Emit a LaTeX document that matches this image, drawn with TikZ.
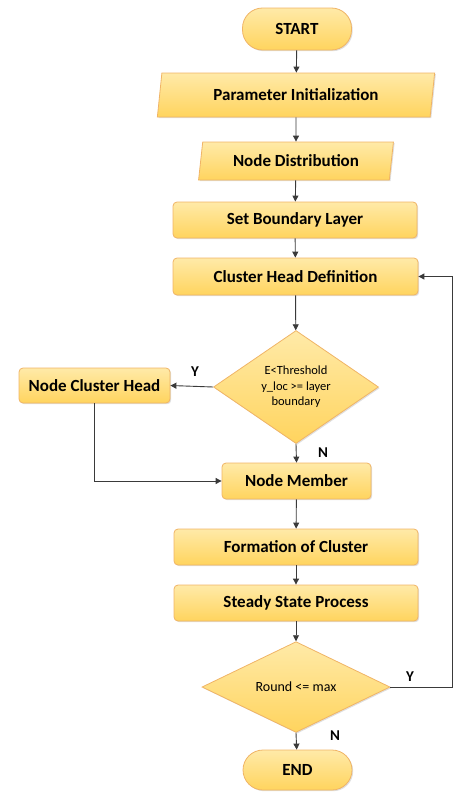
\documentclass[tikz,border=0pt]{standalone}
\usepackage{fontspec}
\setmainfont{Carlito}
\usetikzlibrary{shapes.geometric,shadows,arrows.meta}
\definecolor{boxtop}{HTML}{FFEAA8}
\definecolor{boxbot}{HTML}{FFD45E}
\definecolor{boxedge}{HTML}{F0B466}
\definecolor{wire}{HTML}{3A3A3A}
\begin{document}
\begin{tikzpicture}[x=1pt,y=-1pt,
    box/.style={draw=boxedge,line width=0.8pt,top color=boxtop,bottom color=boxbot,
      drop shadow={opacity=0.25,shadow xshift=1.2pt,shadow yshift=-1.2pt},
      font=\fontsize{17}{19}\selectfont\bfseries,inner sep=0pt},
    proc/.style={box,rectangle,rounded corners=4pt},
    term/.style={box,rectangle,rounded corners=20pt},
    io/.style={box,trapezium,trapezium left angle=77,trapezium right angle=103,
      trapezium stretches=true},
    choice/.style={box,diamond,font=\fontsize{12.5}{15.5}\selectfont,align=center},
    yn/.style={font=\fontsize{15}{17}\selectfont\bfseries},
    flow/.style={draw=wire,line width=0.9pt,-{Triangle[length=6pt,width=6pt]}}]
  \useasboundingbox (0,0) rectangle (474,803);
  \draw
    (297,29) node[term,minimum width=109pt,minimum height=42pt] (start){START}
    (296,95) node[io,minimum width=278pt,minimum height=44pt] (param){Parameter Initialization}
    (296,161) node[io,minimum width=195pt,minimum height=38pt] (dist){Node Distribution}
    (295,220) node[proc,minimum width=244pt,minimum height=36pt] (layer){Set Boundary Layer}
    (295.5,276.5) node[proc,minimum width=245pt,minimum height=37pt] (chdef){Cluster Head Definition}
    (296,387) node[choice,minimum width=165pt,minimum height=113pt] (dec1){E<Threshold\\y\_loc >= layer\\boundary}
    (94.5,385.5) node[proc,minimum width=151pt,minimum height=35pt] (nch){Node Cluster Head}
    (296.5,481) node[proc,minimum width=149pt,minimum height=36pt] (member){Node Member}
    (296,547) node[proc,minimum width=244pt,minimum height=36pt] (form){Formation of Cluster}
    (296,603) node[proc,minimum width=244pt,minimum height=36pt] (steady){Steady State Process}
    (296,687) node[choice,font=\fontsize{14}{16}\selectfont,minimum width=188pt,minimum height=79pt] (dec2){Round <= max}
    (297.5,770) node[term,minimum width=109pt,minimum height=40pt] (end){END};
  \coordinate (loop) at (452,687);
  \node[yn] (y1) at (195,372) {Y};
  \node[yn] (n1) at (323,453) {N};
  \node[yn] (y2) at (410,677) {Y};
  \node[yn] (n2) at (335,736) {N};
  \begin{scope}[flow]
    \draw (start) to (param);
    \draw (param) to (dist);
    \draw (dist) to (layer);
    \draw (layer) to (chdef);
    \draw (chdef) to (dec1);
    \draw (dec1.west) to (nch.east);
    \draw (dec1.south) to (member.north);
    \draw (nch.south) |- (member.west);
    \draw (member) to (form);
    \draw (form) to (steady);
    \draw (steady) to (dec2.north);
    \draw (dec2.south) to (end);
    \draw (dec2.east) -- (loop) |- (chdef.east);
  \end{scope}
\end{tikzpicture}
\end{document}
